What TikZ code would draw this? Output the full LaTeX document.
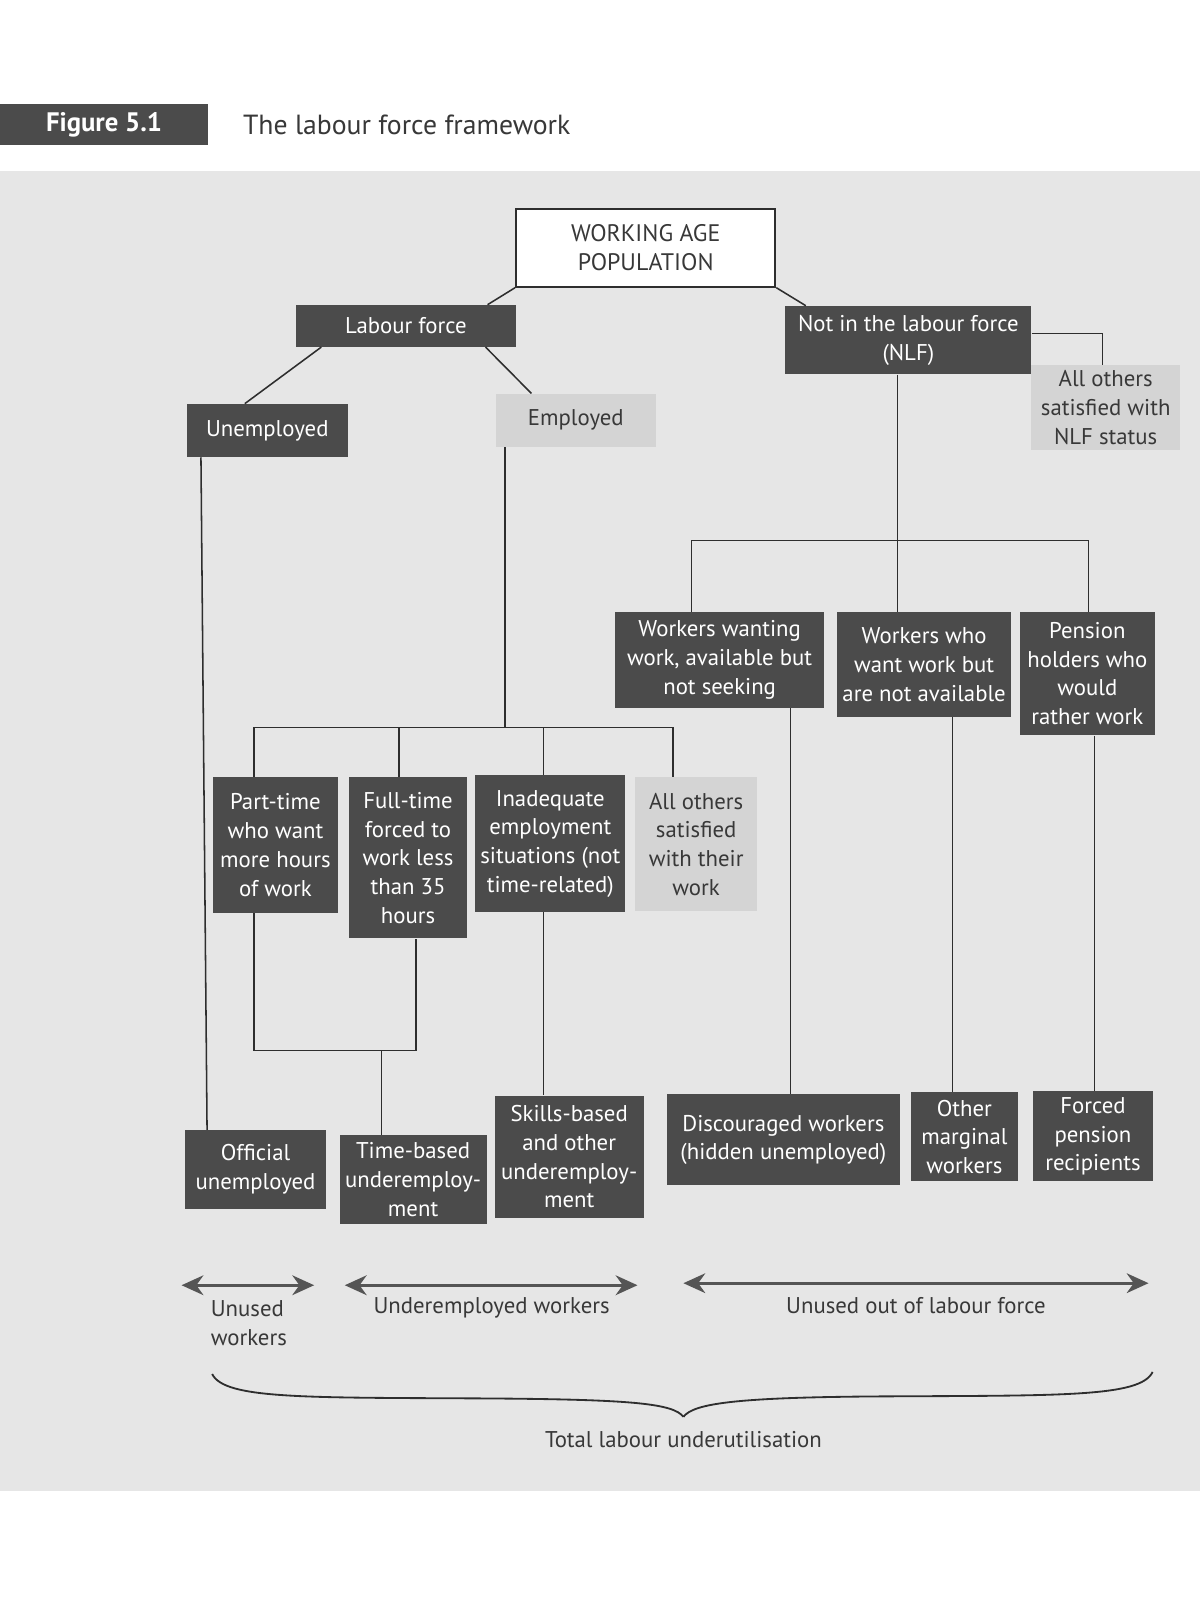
\documentclass[tikz,border=0pt]{standalone}
\usepackage{fontspec}
\setmainfont{PT Sans}
\usetikzlibrary{arrows.meta}

\definecolor{boxdark}{HTML}{4B4B4B}
\definecolor{boxpale}{HTML}{D4D4D4}
\definecolor{bggrey}{HTML}{E6E6E6}
\definecolor{inkgrey}{HTML}{383838}
\definecolor{linegrey}{HTML}{2E2E2E}
\definecolor{arrowgrey}{HTML}{555555}

\begin{document}
\begin{tikzpicture}[x=0.0255cm, y=-0.0255cm,
    every node/.style={inner sep=0pt, align=center, text=inkgrey, font=\fontsize{16.2}{20.4}\selectfont},
    dark/.style={fill=boxdark, text=white},
    pale/.style={fill=boxpale},
    sz/.style 2 args={minimum width=#1*0.0255cm, minimum height=#2*0.0255cm},
    link/.style={draw=linegrey, line width=1.1pt},
    span/.style={{Stealth[length=15.5pt, width=14pt, inset=5pt]}-{Stealth[length=15.5pt, width=14pt, inset=5pt]}, draw=arrowgrey, line width=2.2pt}]
      \fill[white] (0,0) rectangle (1176.5,1568.6);
      \fill[bggrey] (0,168) rectangle (1176.5,1462);
      \useasboundingbox (0,0) rectangle (1176.5,1568.6);
      % heading
      \node (fig) at (102,122) [dark, sz={204}{40}, font=\bfseries\fontsize{19}{22}\selectfont] {Figure 5.1};
      \node (title) at (238,122) [anchor=west, font=\fontsize{19.7}{22}\selectfont] {The labour force framework};
      % first levels
      \node (wap) at (633,243) [sz={254}{76}, fill=white, draw=linegrey, line width=1.5pt, font=\fontsize{17}{20.6}\selectfont] {WORKING AGE\\POPULATION};
      \node (lf) at (398,319.5) [dark, sz={216}{41}] {Labour force};
      \node (nlf) at (890.5,333.5) [dark, sz={241}{67}] {Not in the labour force\\(NLF)};
      \node (unemp) at (262,422) [dark, sz={158}{52}] {Unemployed};
      \node (emp) at (564.5,412) [pale, sz={157}{52}] {Employed};
      \node (nlfsat) at (1084,399.5) [pale, sz={146}{83}] {All others\\satisfied with\\NLF status};
      % not in the labour force
      \node (wwant) at (705.5,647) [dark, sz={205}{94}] {Workers wanting\\work, available but\\not seeking};
      \node (wwho) at (906,651.5) [dark, sz={170}{103}] {Workers who\\want work but\\are not available};
      \node (pens) at (1066,660.5) [dark, sz={132}{121}] {Pension\\holders who\\would\\rather work};
      % employed
      \node (part) at (270,828.5) [dark, sz={122}{133}] {Part-time\\who want\\more hours\\of work};
      \node (full) at (400,841) [dark, sz={116}{158}] {Full-time\\forced to\\work less\\than 35\\hours};
      \node (inad) at (539.5,827) [dark, sz={147}{134}] {Inadequate\\employment\\situations (not\\time-related)};
      \node (sat) at (682.5,827.5) [pale, sz={119}{131}] {All others\\satisfied\\with their\\work};
      % outcomes
      \node (offic) at (250.5,1146.5) [dark, sz={139}{77}] {Official\\unemployed};
      \node (timeb) at (405,1156.5) [dark, sz={144}{87}] {Time-based\\underemploy-\\ment};
      \node (skills) at (558,1134) [dark, sz={146}{120}] {Skills-based\\and other\\underemploy-\\ment};
      \node (disc) at (768,1117.5) [dark, sz={228}{89}] {Discouraged workers\\(hidden unemployed)};
      \node (other) at (945.5,1114.5) [dark, sz={105}{87}] {Other\\marginal\\workers};
      \node (forced) at (1071.5,1114) [dark, sz={117}{88}] {Forced\\pension\\recipients};
      % connectors
      \draw[link] (wap.south west) -- (478,0 |- lf.north);
      \draw[link] (wap.south east) -- (790,0 |- nlf.north);
      \draw[link] (315,0 |- lf.south) -- (240,0 |- unemp.north);
      \draw[link] (476,0 |- lf.south) -- (521,0 |- emp.north);
      \draw[link] (nlf.east |- 0,327) -| (1081,0 |- nlfsat.north);
      \coordinate (nlfbus) at (880,530);
      \draw[link] (880,0 |- nlf.south) -- (nlfbus);
      \draw[link] (678,0 |- wwant.north) |- (nlfbus) -| (1067,0 |- pens.north);
      \draw[link] (nlfbus) -- (880,0 |- wwho.north);
      \coordinate (empbus) at (495,713);
      \draw[link] (495,0 |- emp.south) -- (empbus);
      \draw[link] (249,0 |- part.north) |- (empbus) -| (660,0 |- sat.north);
      \foreach \x/\dest in {391/full, 533/inad}
        \draw[link] (\x,0 |- empbus) -- (\x,0 |- \dest.north);
      \coordinate (timebus) at (374,1030);
      \draw[link] (249,0 |- part.south) |- (timebus) -| (408,0 |- full.south);
      \draw[link] (timebus) -- (374,0 |- timeb.north);
      \draw[link] (197,0 |- unemp.south) -- (203,0 |- offic.north);
      \foreach \source/\dest/\x in {inad/skills/533, wwant/disc/775, wwho/other/934, pens/forced/1073}
        \draw[link] (\x,0 |- \source.south) -- (\x,0 |- \dest.north);
      % groups
      \coordinate (uwl) at (178,1260);
      \coordinate (uwr) at (308,1260);
      \coordinate (uel) at (338,1260);
      \coordinate (uer) at (625,1260);
      \coordinate (uol) at (670,1258);
      \coordinate (uor) at (1126,1258);
      \draw[span] (uwl) -- (uwr);
      \draw[span] (uel) -- (uer);
      \draw[span] (uol) -- (uor);
      \node (uwlab) at (244,1297) [align=left] {Unused\\workers};
      \node (uelab) at (482,1282) {Underemployed workers};
      \node (uolab) at (898,1280) {Unused out of labour force};
      % brace
      \coordinate (bl) at (208,1347);
      \coordinate (br) at (1130,1345);
      \coordinate (bt) at (670,1389);
      \draw[draw=linegrey, line width=1.3pt] (bl) .. controls (220,1372) and (300,1370) .. (480,1371) .. controls (620,1372) and (660,1376) .. (bt);
      \draw[draw=linegrey, line width=1.3pt] (br) .. controls (1118,1370) and (1040,1368) .. (860,1369) .. controls (720,1370) and (680,1376) .. (bt);
      \node (total) at (670,1411) {Total labour underutilisation};
    \end{tikzpicture}
\end{document}
